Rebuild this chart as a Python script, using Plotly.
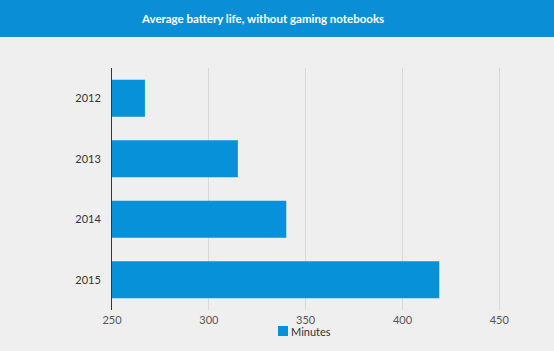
import plotly.graph_objects as go

years = ["2012", "2013", "2014", "2015"]
minutes = [267, 315, 340, 419]
x_ticks = [250, 300, 350, 400, 450]
title_text = "Average battery life, without gaming notebooks"
series_name = "Minutes"

W, H = 554, 351
ml, mr, mt, mb = 112, 16, 68, 41
pw = W - ml - mr
ph = H - mt - mb

blue = "#0791d8"

def px_x(p):
    return (p - ml) / pw

def px_y(p):
    return (H - mb - p) / ph

fig = go.Figure()
fig.add_trace(go.Bar(
    y=years, x=minutes, orientation="h", name=series_name,
    marker=dict(color=blue, line=dict(width=0)),
))

fig.update_layout(
    width=W, height=H,
    margin=dict(l=ml, r=mr, t=mt, b=mb),
    paper_bgcolor="#efefef", plot_bgcolor="#efefef",
    font=dict(family="Lato, Open Sans, sans-serif", size=11, color="#444"),
    bargap=0.39,
    showlegend=False,
    xaxis=dict(range=[250, 470], tickvals=x_ticks, showgrid=True,
               gridcolor="#d9d9d9", gridwidth=1, zeroline=False, showline=False,
               ticks="", ticklabelstandoff=2, tickfont=dict(size=11, color="#555")),
    yaxis=dict(autorange="reversed", showline=True, linecolor="#333", linewidth=1,
               showgrid=False, ticks="", ticklabelstandoff=8,
               tickfont=dict(size=11, color="#333")),
    shapes=[
        dict(type="rect", xref="paper", yref="paper",
             x0=px_x(-2), x1=px_x(W + 2), y0=px_y(37), y1=px_y(-2),
             fillcolor="#0a8fd6", line=dict(width=0), layer="below"),
        dict(type="rect", xref="paper", yref="paper",
             x0=px_x(278), x1=px_x(288), y0=px_y(336), y1=px_y(326),
             fillcolor=blue, line=dict(width=0)),
    ],
    annotations=[
        dict(text=title_text, xref="paper", yref="paper",
             x=px_x(262), y=px_y(19), xanchor="center", yanchor="middle",
             showarrow=False,
             font=dict(size=11.5, color="white", family="Lato, sans-serif", weight="bold")),
        dict(text=series_name, xref="paper", yref="paper",
             x=px_x(289), y=px_y(331), xanchor="left", yanchor="middle",
             showarrow=False, font=dict(size=11, color="#333")),
    ],
)

fig.write_html("out.html")
